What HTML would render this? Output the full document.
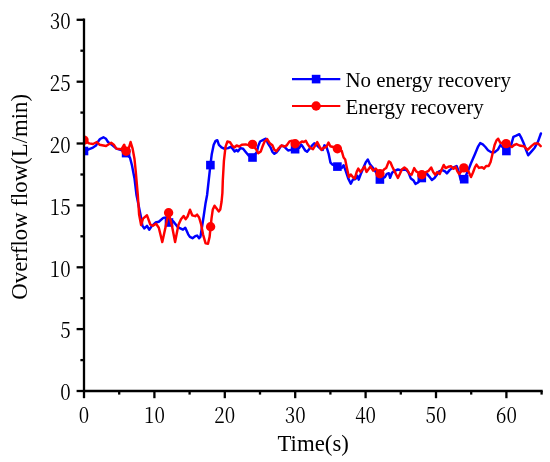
<!DOCTYPE html>
<html><head><meta charset="utf-8"><title>Overflow flow</title>
<style>
html,body{margin:0;padding:0;background:#fff}
svg{display:block}
.t{font-family:"Liberation Serif","Times New Roman",serif;font-size:20.9px;fill:#000}
.a{font-family:"Liberation Serif","Times New Roman",serif;font-size:22.8px;fill:#000}
.n{font-family:"Noto Serif CJK SC","Liberation Serif",serif;font-size:21.8px;font-weight:400;fill:#000}
</style></head><body>
<svg width="550" height="462" viewBox="0 0 550 462">
<rect width="550" height="462" fill="#fff"/>
<defs><clipPath id="cp"><rect x="84" y="19" width="460" height="372"/></clipPath></defs><g clip-path="url(#cp)">
<polyline points="84.0,151.2 88.0,149.6 93.0,147.6 96.0,145.6 98.0,141.8 100.0,139.0 103.4,137.3 106.0,138.8 108.0,142.0 112.5,145.3 116.4,148.6 122.9,150.5 126.1,153.1 130.0,157.7 132.0,165.5 134.5,178.4 136.5,195.0 141.0,217.3 142.4,225.8 144.4,228.4 147.0,225.8 149.2,229.7 151.6,226.4 155.5,222.5 158.8,221.8 163.3,217.9 167.3,217.3 169.0,222.5 173.2,221.2 177.7,227.1 183.0,229.7 185.3,227.7 188.2,234.3 189.9,236.9 192.5,238.2 195.2,236.2 197.1,235.6 199.1,238.2 200.4,236.9 201.7,229.0 203.7,216.0 205.6,202.9 207.1,195.0 210.4,165.1 211.7,154.6 213.7,144.8 215.6,140.9 217.3,140.2 218.9,144.8 221.5,147.4 224.1,148.7 228.1,148.1 230.7,146.8 232.6,148.7 234.6,151.4 236.6,150.1 237.9,151.4 240.5,148.1 243.1,148.7 245.7,152.0 248.4,155.3 252.5,157.5 256.9,152.0 258.2,146.1 260.1,141.5 262.8,140.2 265.9,138.7 267.9,143.3 270.5,147.3 272.4,151.8 274.4,153.8 276.4,152.5 279.0,149.2 280.9,145.9 283.6,145.9 286.2,148.6 288.1,150.5 290.8,149.9 295.1,149.2 299.3,147.9 301.2,144.6 303.2,147.3 305.2,150.5 307.1,151.8 309.1,149.2 311.7,145.9 314.3,143.3 316.3,144.6 318.2,146.6 320.9,149.2 322.8,149.9 324.4,145.3 326.6,147.2 328.6,153.6 330.5,162.7 332.5,164.7 337.4,166.6 341.7,168.0 343.6,165.3 345.6,170.6 348.2,178.4 350.8,183.7 352.8,179.7 355.4,179.1 357.4,175.8 358.7,179.7 360.6,174.5 363.3,168.0 365.9,162.1 367.8,159.5 369.8,164.0 373.1,168.0 375.7,171.9 379.9,179.5 384.9,177.1 386.8,173.8 388.8,173.2 390.1,177.8 392.0,172.7 394.6,170.8 397.9,169.5 400.5,170.1 405.7,169.5 408.3,172.1 410.9,178.6 413.6,180.6 415.5,183.9 418.1,182.5 421.8,178.0 426.6,173.4 429.3,176.6 431.9,179.9 434.5,178.0 436.5,175.3 439.1,171.4 442.4,170.1 445.0,171.4 446.9,173.4 449.6,170.1 452.2,168.1 454.8,166.8 456.6,166.0 458.6,171.2 460.7,180.0 464.2,179.2 468.4,169.9 471.0,163.3 474.9,154.2 478.2,146.3 480.2,143.1 482.8,144.4 485.4,147.0 488.0,150.3 491.3,152.2 494.6,152.2 497.9,149.6 500.4,145.0 506.4,151.0 511.3,144.4 513.4,136.8 516.2,135.7 519.4,134.2 521.6,138.4 523.8,143.4 526.0,149.9 528.2,155.3 530.9,152.1 534.7,147.7 538.0,141.7 540.9,133.5" fill="none" stroke="#0000ff" stroke-width="2.45" stroke-linejoin="round" stroke-linecap="round"/>
<rect x="79.7" y="146.7" width="8.6" height="8.6" fill="#0000ff"/>
<rect x="121.8" y="148.8" width="8.6" height="8.6" fill="#0000ff"/>
<rect x="164.7" y="218.2" width="8.6" height="8.6" fill="#0000ff"/>
<rect x="206.1" y="160.8" width="8.6" height="8.6" fill="#0000ff"/>
<rect x="248.2" y="153.2" width="8.6" height="8.6" fill="#0000ff"/>
<rect x="290.8" y="144.9" width="8.6" height="8.6" fill="#0000ff"/>
<rect x="333.1" y="162.3" width="8.6" height="8.6" fill="#0000ff"/>
<rect x="375.6" y="175.2" width="8.6" height="8.6" fill="#0000ff"/>
<rect x="417.5" y="173.7" width="8.6" height="8.6" fill="#0000ff"/>
<rect x="459.9" y="174.9" width="8.6" height="8.6" fill="#0000ff"/>
<rect x="502.1" y="146.7" width="8.6" height="8.6" fill="#0000ff"/>
<polyline points="84.0,140.1 89.1,143.4 93.0,144.0 96.9,142.0 99.5,144.7 106.0,146.0 111.2,142.7 113.8,144.7 116.4,148.6 121.6,149.2 124.2,144.7 126.1,151.2 128.7,148.6 130.6,142.0 132.6,148.6 134.5,159.0 135.8,172.0 137.8,195.0 139.1,214.6 141.1,225.1 143.0,218.6 147.0,215.3 150.3,224.5 152.9,225.8 156.1,223.8 158.8,227.7 162.3,242.1 166.0,225.1 168.6,212.7 171.8,225.1 175.1,242.1 178.4,225.1 181.0,219.2 183.6,216.0 185.6,219.2 187.6,216.5 190.0,209.7 192.2,215.3 195.2,216.2 197.1,214.6 199.1,217.5 201.0,223.8 203.0,234.3 205.6,243.4 208.0,243.7 209.6,236.9 210.6,226.8 211.5,218.6 212.8,209.4 214.5,205.7 216.8,208.7 218.7,211.4 220.3,209.4 221.6,201.5 222.4,193.0 222.8,180.8 223.9,161.2 225.5,146.8 227.4,141.5 230.0,142.2 232.6,146.1 234.6,147.4 236.6,145.5 239.2,146.5 241.8,144.8 245.7,144.4 248.4,145.2 252.5,144.4 256.2,149.4 258.2,153.3 260.8,151.4 262.4,146.8 264.6,141.6 267.2,139.1 269.8,143.3 272.4,145.3 274.4,149.9 276.4,151.2 278.3,148.6 281.6,145.3 284.2,146.6 286.8,145.3 289.5,141.4 292.1,140.7 295.1,143.7 299.3,143.3 301.9,141.4 303.8,142.0 305.8,140.7 307.8,144.6 310.4,147.9 313.0,149.2 315.0,145.9 317.2,142.0 319.6,146.6 321.5,149.9 323.5,147.9 326.3,147.0 328.5,142.5 330.3,146.2 333.2,147.0 337.4,148.7 341.7,150.9 343.6,157.5 345.2,159.5 346.9,168.0 348.9,177.1 350.8,174.5 352.8,177.1 354.8,178.4 356.7,171.9 358.3,168.6 360.4,171.9 362.6,169.3 364.6,166.6 366.5,171.9 368.5,169.3 370.5,166.6 373.1,170.6 375.7,168.6 379.9,173.8 384.2,169.3 386.2,168.0 388.8,161.4 390.5,162.5 392.2,166.5 394.6,171.4 397.9,178.0 399.8,174.0 401.8,169.5 404.4,167.5 407.0,169.5 409.6,174.0 411.6,174.7 414.2,168.1 416.2,171.4 421.8,174.7 426.0,172.1 428.6,170.8 431.2,167.5 433.2,172.1 435.2,174.7 437.1,172.1 439.7,174.0 441.7,169.5 443.7,164.9 445.6,168.1 448.2,166.8 450.9,166.2 453.5,168.8 455.6,166.9 457.4,171.4 459.2,174.0 463.8,167.9 468.4,171.2 471.0,177.1 473.0,172.5 474.9,167.3 476.5,164.6 478.9,167.9 482.1,167.3 484.1,168.6 486.1,166.0 488.7,166.0 490.6,162.0 492.6,153.5 494.6,145.0 496.5,140.4 498.2,138.7 500.2,142.8 506.1,143.6 511.8,147.0 514.2,145.0 516.5,144.1 519.4,145.5 523.8,146.2 527.6,149.9 531.4,146.1 534.7,143.4 538.0,143.4 540.7,146.1" fill="none" stroke="#ff0000" stroke-width="2.45" stroke-linejoin="round" stroke-linecap="round"/>
<circle cx="84.0" cy="140.1" r="4.7" fill="#ff0000"/>
<circle cx="126.1" cy="151.2" r="4.7" fill="#ff0000"/>
<circle cx="168.6" cy="212.7" r="4.7" fill="#ff0000"/>
<circle cx="210.6" cy="226.8" r="4.7" fill="#ff0000"/>
<circle cx="252.5" cy="144.4" r="4.7" fill="#ff0000"/>
<circle cx="295.1" cy="143.7" r="4.7" fill="#ff0000"/>
<circle cx="337.4" cy="148.7" r="4.7" fill="#ff0000"/>
<circle cx="379.9" cy="173.8" r="4.7" fill="#ff0000"/>
<circle cx="421.8" cy="174.7" r="4.7" fill="#ff0000"/>
<circle cx="463.8" cy="167.9" r="4.7" fill="#ff0000"/>
<circle cx="506.1" cy="143.6" r="4.7" fill="#ff0000"/>
</g>
<g stroke="#000" stroke-width="2.3" fill="none" stroke-linecap="butt">
<path d="M84.0,18.5 V392.0"/>
<path d="M83.0,391.0 H542.7"/>
<path d="M76.6,391.0 H84.0"/>
<path d="M76.6,329.1 H84.0"/>
<path d="M76.6,267.3 H84.0"/>
<path d="M76.6,205.4 H84.0"/>
<path d="M76.6,143.5 H84.0"/>
<path d="M76.6,81.7 H84.0"/>
<path d="M76.6,19.8 H84.0"/>
<path d="M80.4,360.1 H84.0"/>
<path d="M80.4,298.2 H84.0"/>
<path d="M80.4,236.3 H84.0"/>
<path d="M80.4,174.5 H84.0"/>
<path d="M80.4,112.6 H84.0"/>
<path d="M80.4,50.7 H84.0"/>
<path d="M84.0,391.0 V398.2"/>
<path d="M154.4,391.0 V398.2"/>
<path d="M224.8,391.0 V398.2"/>
<path d="M295.2,391.0 V398.2"/>
<path d="M365.6,391.0 V398.2"/>
<path d="M436.0,391.0 V398.2"/>
<path d="M506.4,391.0 V398.2"/>
<path d="M119.2,391.0 V394.6"/>
<path d="M189.6,391.0 V394.6"/>
<path d="M260.0,391.0 V394.6"/>
<path d="M330.4,391.0 V394.6"/>
<path d="M400.8,391.0 V394.6"/>
<path d="M471.2,391.0 V394.6"/>
<path d="M541.6,391.0 V394.6"/>
</g>
<text class="n" transform="translate(70.6,400.3) scale(0.87,1)" text-anchor="end">0</text>
<text class="n" transform="translate(70.6,338.4) scale(0.87,1)" text-anchor="end">5</text>
<text class="n" transform="translate(70.6,276.6) scale(0.87,1)" text-anchor="end">10</text>
<text class="n" transform="translate(70.6,214.7) scale(0.87,1)" text-anchor="end">15</text>
<text class="n" transform="translate(70.6,152.8) scale(0.87,1)" text-anchor="end">20</text>
<text class="n" transform="translate(70.6,91.0) scale(0.87,1)" text-anchor="end">25</text>
<text class="n" transform="translate(70.6,29.1) scale(0.87,1)" text-anchor="end">30</text>
<text class="n" transform="translate(84.0,422.7) scale(0.87,1)" text-anchor="middle">0</text>
<text class="n" transform="translate(154.4,422.7) scale(0.87,1)" text-anchor="middle">10</text>
<text class="n" transform="translate(224.8,422.7) scale(0.87,1)" text-anchor="middle">20</text>
<text class="n" transform="translate(295.2,422.7) scale(0.87,1)" text-anchor="middle">30</text>
<text class="n" transform="translate(365.6,422.7) scale(0.87,1)" text-anchor="middle">40</text>
<text class="n" transform="translate(436.0,422.7) scale(0.87,1)" text-anchor="middle">50</text>
<text class="n" transform="translate(506.4,422.7) scale(0.87,1)" text-anchor="middle">60</text>
<text class="a" x="313.2" y="451" text-anchor="middle">Time(s)</text>
<text class="a" transform="translate(27,196.8) rotate(-90)" text-anchor="middle">Overflow flow(L/min)</text>
<path d="M292,79.1 H340.3" stroke="#0000ff" stroke-width="2.2"/>
<rect x="311.8" y="74.8" width="8.6" height="8.6" fill="#0000ff"/>
<path d="M292,106 H340.3" stroke="#ff0000" stroke-width="2.2"/>
<circle cx="316.1" cy="106" r="4.7" fill="#ff0000"/>
<text class="t" x="345.5" y="87.1">No energy recovery</text>
<text class="t" x="345.5" y="113.7">Energy recovery</text>
</svg></body></html>
